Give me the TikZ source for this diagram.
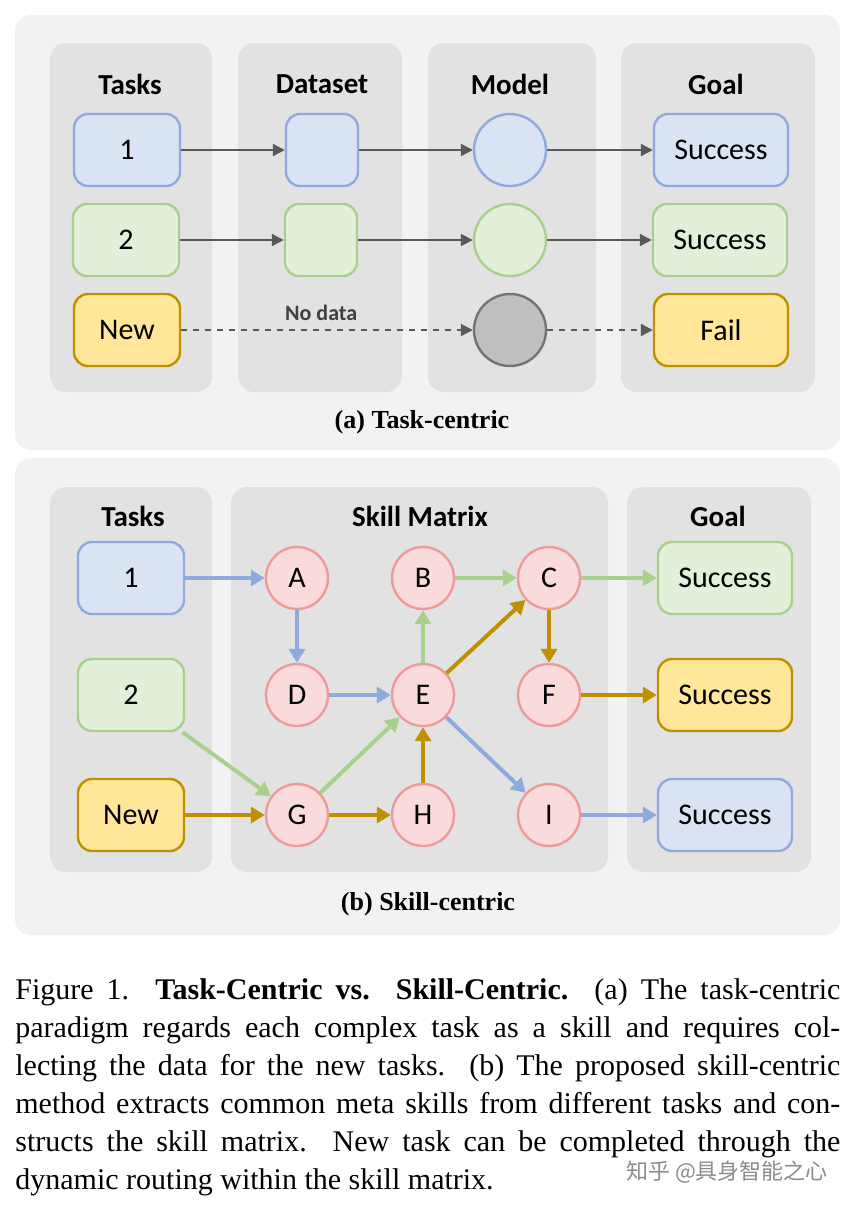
\documentclass[tikz,border=0pt]{standalone}
\usepackage{fontspec}
\setmainfont{Liberation Serif}
\newfontfamily\calfont{Carlito}
\newfontfamily\cjkfont{Noto Sans CJK SC}
\usetikzlibrary{arrows.meta, calc}
\definecolor{bgOuter}{HTML}{F2F2F2}
\definecolor{bgCol}{HTML}{E2E2E2}
\definecolor{bluF}{HTML}{DAE3F3}
\definecolor{bluD}{HTML}{8FAADC}
\definecolor{grnF}{HTML}{E2F0D9}
\definecolor{grnD}{HTML}{A9D18E}
\definecolor{ylwF}{HTML}{FFE699}
\definecolor{ylwD}{HTML}{BF9000}
\definecolor{pnkF}{HTML}{FADBDB}
\definecolor{pnkD}{HTML}{EE9A9A}
\begin{document}
\begin{tikzpicture}[x=0.5pt, y=-0.5pt,
    every node/.style={font=\calfont\fontsize{15}{17}\selectfont},
    panel/.style={fill=bgOuter, rounded corners=8pt, draw=none},
    column/.style={fill=bgCol, rounded corners=8pt, draw=none},
    head/.style={font=\calfont\bfseries\fontsize{14.5}{16}\selectfont},
    task/.style={rounded corners=7pt, line width=1.2pt, minimum height=36pt, minimum width=53pt},
    sq/.style={rounded corners=7pt, line width=1.2pt, minimum size=36pt},
    ball/.style={circle, line width=1.2pt, minimum size=36pt},
    skill/.style={circle, fill=pnkF, draw=pnkD, line width=1.2pt, minimum size=31pt, inner sep=0pt},
    gline/.style={draw=black!65, line width=1.1pt, -{Triangle[length=6pt,width=6pt]}},
    cline/.style={line width=2pt, -{Triangle[length=7pt,width=8pt]}},
    sub/.style={font=\bfseries\fontsize{13}{15}\selectfont}]
    \useasboundingbox (0,0) rectangle (856,1207);
    \fill[white] (0,0) rectangle (856,1207);
    % Panel (a)
    \fill[panel] (15,15) rectangle (840,450);
    \fill[column] (50,43) rectangle (212,392);
    \fill[column] (238,43) rectangle (402,392);
    \fill[column] (428,43) rectangle (596,392);
    \fill[column] (621,43) rectangle (815,392);
    \node[head] at (130,84) {Tasks};
    \node[head] at (322,84) {Dataset};
    \node[head] at (510,84) {Model};
    \node[head] at (716,84) {Goal};
    % Rows
    \node[task, fill=bluF, draw=bluD] (t1) at (127,150) {1};
    \node[sq, fill=bluF, draw=bluD] (d1) at (322,150) {};
    \node[ball, fill=bluF, draw=bluD] (m1) at (510,150) {};
    \node[task, minimum width=67pt, fill=bluF, draw=bluD] (g1) at (721,150) {Success};
    \node[task, fill=grnF, draw=grnD] (t2) at (126,240) {2};
    \node[sq, fill=grnF, draw=grnD] (d2) at (321,240) {};
    \node[ball, fill=grnF, draw=grnD] (m2) at (510,240) {};
    \node[task, minimum width=67pt, fill=grnF, draw=grnD] (g2) at (720,240) {Success};
    \node[task, fill=ylwF, draw=ylwD] (t3) at (127,330) {New};
    \node[ball, fill=black!25, draw=black!55] (m3) at (510,330) {};
    \node[task, minimum width=67pt, fill=ylwF, draw=ylwD] (g3) at (721,330) {Fail};
    \foreach \a/\b in {t1/d1, d1/m1, m1/g1, t2/d2, d2/m2, m2/g2}
    {
        \draw[gline] (\a) -- (\b);
    }
    \draw[gline, dashed] (t3) -- node[above, pos=0.48, yshift=1pt, font=\calfont\bfseries\fontsize{11}{12}\selectfont, text=black!75] {No data} (m3);
    \draw[gline, dashed] (m3) -- (g3);
    \node[sub] at (422,422) {(a) Task-centric};

    % Panel (b)
    \fill[panel] (15,458) rectangle (840,935);
    \fill[column] (50,487) rectangle (212,872);
    \fill[column] (231,487) rectangle (608,872);
    \fill[column] (627,487) rectangle (811,872);
    \node[head] at (133,516) {Tasks};
    \node[head] at (420,516) {Skill Matrix};
    \node[head] at (718,516) {Goal};
    \node[task, fill=bluF, draw=bluD] (s1) at (131,578) {1};
    \node[task, fill=grnF, draw=grnD] (s2) at (131,695) {2};
    \node[task, fill=ylwF, draw=ylwD] (s3) at (131,815) {New};
    \node[task, minimum width=67pt, fill=grnF, draw=grnD] (r1) at (725,578) {Success};
    \node[task, minimum width=67pt, fill=ylwF, draw=ylwD] (r2) at (725,695) {Success};
    \node[task, minimum width=67pt, fill=bluF, draw=bluD] (r3) at (725,815) {Success};
    % Skills
    \foreach \n/\x/\y in {A/297/578, B/423/578, C/549/578, D/297/695, E/423/695, F/549/695, G/297/815, H/423/815, I/549/815}
    {
        \node[skill] (\n) at (\x,\y) {\n};
    }
    \foreach \a/\b in {s1/A, A/D, D/E, E/I, I/r3}
    {
        \draw[cline, bluD] (\a) -- (\b);
    }
    \foreach \a/\b in {B/C, C/r1, s2/G, G/E, E/B}
    {
        \draw[cline, grnD] (\a) -- (\b);
    }
    \foreach \a/\b in {s3/G, G/H, H/E, E/C, C/F, F/r2}
    {
        \draw[cline, ylwD] (\a) -- (\b);
    }
    \node[sub] at (428,904) {(b) Skill-centric};

    % Caption
    \node[anchor=north west, inner sep=0pt, text width=412.5pt, align=justify,
          font=\fontsize{15}{19}\selectfont] (cap) at (15,978)
    {Figure 1.\ \ \textbf{Task-Centric vs.\ \ Skill-Centric.}\ \ (a) The task-centric\linebreak
     paradigm regards each complex task as a skill and requires col-\linebreak
     lecting the data for the new tasks.\ \ (b) The proposed skill-centric\linebreak
     method extracts common meta skills from different tasks and con-\linebreak
     structs the skill matrix.\ \ New task can be completed through the\linebreak
     dynamic routing within the skill matrix.};
    \node[anchor=east, text=black!45, font=\cjkfont\fontsize{11}{12}\selectfont] (wm) at (835,1172) {知乎 @具身智能之心};
\end{tikzpicture}
\end{document}
